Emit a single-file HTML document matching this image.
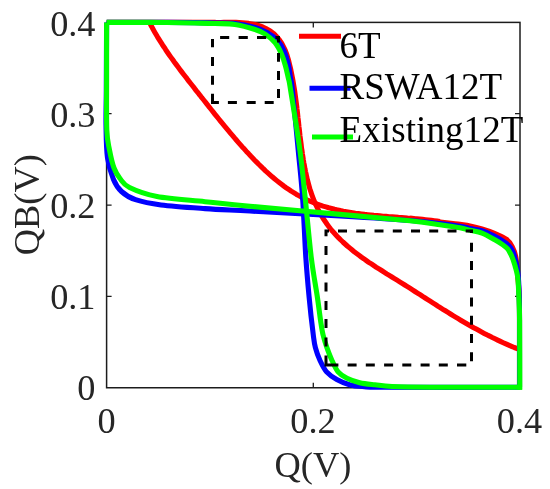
<!DOCTYPE html>
<html><head><meta charset="utf-8"><title>Butterfly curve</title>
<style>
html,body{margin:0;padding:0;background:#fff;}
svg{display:block;}
text{font-family:"Liberation Serif",serif;}
.tk{font-size:36.3px;fill:#262626;}
.lb{font-size:36.4px;fill:#262626;}
.lg{font-size:37px;fill:#000;}
.c{fill:none;stroke-width:5.1;stroke-linejoin:round;stroke-linecap:butt;}
</style></head><body>
<svg width="550" height="489" viewBox="0 0 550 489">
<rect x="0" y="0" width="550" height="489" fill="#fff"/>
<!-- axes box -->
<g stroke="#1c1c1c" stroke-width="1.5" fill="none">
<rect x="106.6" y="22.4" width="413.4" height="365.35"/>
<path stroke-width="1.3" d="M106.6 113.7h5M106.6 205.1h5M106.6 296.4h5M520 113.7h-5M520 205.1h-5M520 296.4h-5M313.3 387.75v-5M313.3 22.4v5"/>
</g>
<!-- legend lines -->
<path d="M299 36.2H341" stroke="#ff0000" stroke-width="5" fill="none"/>
<path d="M309.5 88.3H350.5" stroke="#0000ff" stroke-width="5" fill="none"/>
<path d="M312 137H353" stroke="#00ff00" stroke-width="5" fill="none"/>
<!-- curves -->
<path class="c" stroke="#ff0000" d="M148.8 21.2 L150.2 23.9 L151.6 26.6 L153.1 29.3 L154.6 31.9 L156.1 34.5 L157.6 37.1 L159.2 39.7 L160.8 42.2 L162.4 44.7 L164.1 47.2 L165.7 49.7 L167.4 52.2 L169.1 54.7 L170.8 57.1 L172.6 59.6 L174.3 62.0 L176.1 64.4 L177.9 66.8 L179.7 69.2 L181.5 71.6 L183.3 74.0 L185.1 76.3 L187.0 78.7 L188.8 81.1 L190.7 83.5 L192.5 85.8 L194.4 88.2 L196.2 90.6 L198.1 92.9 L200.0 95.3 L201.8 97.7 L203.7 100.0 L205.6 102.4 L207.5 104.8 L209.3 107.2 L211.2 109.5 L213.1 111.9 L215.0 114.3 L216.9 116.6 L218.8 119.0 L220.7 121.4 L222.6 123.7 L224.6 126.1 L226.5 128.4 L228.4 130.7 L230.4 133.1 L232.4 135.4 L234.3 137.7 L236.3 140.0 L238.3 142.3 L240.3 144.6 L242.3 146.9 L244.4 149.1 L246.4 151.4 L248.5 153.6 L250.5 155.8 L252.6 158.0 L254.7 160.2 L256.9 162.4 L259.0 164.5 L261.2 166.6 L263.3 168.7 L265.5 170.8 L267.8 172.8 L270.0 174.8 L272.2 176.8 L274.5 178.7 L276.8 180.6 L279.2 182.5 L281.5 184.3 L283.9 186.1 L286.3 187.8 L288.7 189.4 L291.2 191.1 L293.7 192.6 L296.2 194.2 L298.7 195.6 L301.3 197.0 L303.9 198.4 L306.6 199.7 L309.2 200.9 L311.9 202.0 L314.7 203.1 L317.4 204.2 L320.2 205.1 L323.0 206.1 L325.9 206.9 L328.7 207.8 L331.6 208.5 L334.5 209.3 L337.5 209.9 L340.4 210.6 L343.4 211.2 L346.4 211.7 L349.4 212.2 L352.4 212.7 L355.4 213.2 L358.5 213.6 L361.5 214.0 L364.6 214.4 L367.6 214.7 L370.7 215.0 L373.8 215.4 L376.9 215.6 L379.9 215.9 L383.0 216.2 L386.1 216.4 L389.2 216.7 L392.3 216.9 L395.3 217.1 L398.4 217.4 L401.5 217.6 L404.5 217.8 L407.5 218.1 L410.6 218.3 L413.6 218.5 L416.6 218.8 L419.6 219.1 L422.5 219.4 L425.5 219.7 L428.4 220.0 L431.3 220.3 L434.2 220.7 L437.1 221.1 L439.9 221.5 M410.0 218.0 C415.0 218.7 431.7 220.9 440.0 222.0 C448.3 223.1 455.0 223.8 460.0 224.4 C465.0 225.1 466.3 225.2 470.0 225.9 C473.7 226.7 477.9 227.7 482.0 228.9 C486.1 230.1 490.4 231.6 494.5 233.3 C498.6 235.1 503.6 237.2 506.5 239.4 C509.4 241.6 510.6 243.7 512.2 246.7 C513.8 249.7 515.0 252.4 515.9 257.5 C516.8 262.6 517.2 270.8 517.8 277.0 C518.3 283.2 518.9 287.8 519.2 295.0 C519.5 302.2 519.5 304.7 519.5 320.0 C519.5 335.3 519.5 375.8 519.5 387.0"/>
<path class="c" stroke="#ff0000" d="M106.8 22.4 L215 22.4 L215.1 22.6 L217.9 22.5 L220.8 22.5 L223.8 22.4 L226.8 22.3 L229.8 22.3 L232.9 22.3 L236.1 22.4 L239.2 22.5 L242.3 22.7 L245.5 23.0 L248.6 23.4 L251.6 23.9 L254.7 24.5 L257.6 25.3 L260.5 26.2 L263.2 27.2 L265.9 28.5 L268.5 29.9 L270.9 31.4 L273.2 33.2 L275.3 35.2 L277.3 37.3 L279.1 39.5 L280.8 41.9 L282.3 44.4 L283.7 47.1 L285.0 49.8 L286.1 52.6 L287.1 55.4 L288.0 58.4 L288.8 61.3 L289.5 64.3 L290.2 67.2 L290.9 70.2 L291.5 73.2 L292.1 76.2 L292.7 79.2 L293.2 82.1 L293.7 85.1 L294.2 88.1 L294.7 91.1 L295.1 94.1 L295.5 97.1 L295.9 100.1 L296.3 103.1 L296.7 106.1 L297.0 109.1 L297.4 112.1 L297.7 115.0 L298.0 118.0 L298.4 121.0 L298.7 124.0 L299.0 127.0 L299.4 130.0 L299.7 133.0 L300.0 136.0 L300.4 138.9 L300.8 141.9 L301.2 144.9 L301.5 147.9 L302.0 150.8 L302.4 153.8 L302.9 156.8 L303.3 159.7 L303.8 162.7 L304.4 165.6 L304.9 168.6 L305.5 171.5 L306.2 174.4 L306.8 177.4 L307.5 180.3 L308.3 183.2 L309.1 186.1 L309.9 189.0 L310.9 191.9 L311.8 194.7 L312.9 197.6 L314.0 200.4 L315.1 203.2 L316.4 206.0 L317.7 208.7 L319.1 211.4 L320.6 214.1 L322.1 216.7 L323.7 219.3 L325.4 221.8 L327.1 224.3 L328.9 226.7 L330.7 229.0 L332.6 231.3 L334.6 233.5 L336.6 235.7 L338.7 237.9 L340.8 240.0 L342.9 242.0 L345.1 244.0 L347.3 246.0 L349.6 247.9 L351.9 249.8 L354.2 251.7 L356.6 253.5 L359.0 255.3 L361.4 257.1 L363.9 258.8 L366.4 260.6 L368.8 262.3 L371.4 263.9 L373.9 265.6 L376.4 267.3 L379.0 268.9 L381.6 270.5 L384.1 272.1 L386.7 273.8 L389.3 275.4 L391.9 277.0 L394.5 278.6 L397.1 280.2 L399.7 281.8 L402.2 283.4 L404.8 285.0 L407.4 286.6 L409.9 288.2 L412.5 289.9 L415.0 291.5 L417.5 293.1 L420.1 294.7 L422.6 296.4 L425.2 298.0 L427.7 299.6 L430.2 301.2 L432.8 302.8 L435.3 304.4 L437.8 306.1 L440.3 307.7 L442.9 309.3 L445.4 310.8 L448.0 312.4 L450.5 314.0 L453.1 315.6 L455.6 317.1 L458.2 318.7 L460.7 320.2 L463.3 321.7 L465.9 323.2 L468.5 324.7 L471.1 326.2 L473.7 327.7 L476.3 329.1 L479.0 330.6 L481.6 332.0 L484.2 333.4 L486.9 334.8 L489.6 336.1 L492.3 337.5 L495.0 338.8 L497.7 340.1 L500.4 341.4 L503.2 342.7 L505.9 343.9 L508.7 345.1 L511.5 346.3 L514.3 347.5 L517.2 348.6 L520.0 349.7"/>
<path class="c" stroke="#0000ff" d="M106.6 22.3 C113.8 22.3 135.3 22.2 150.0 22.3 C164.7 22.4 184.2 22.5 195.0 22.6 C205.8 22.7 208.3 22.9 215.0 23.0 C221.7 23.1 228.3 22.8 235.0 23.5 C241.7 24.2 249.7 26.0 255.0 27.5 C260.3 29.0 263.2 30.3 267.0 32.5 C270.8 34.7 274.6 37.2 277.5 40.5 C280.4 43.8 282.7 48.0 284.5 52.0 C286.3 56.0 287.3 60.0 288.3 64.3 C289.3 68.6 289.8 73.7 290.5 78.0 C291.2 82.3 291.1 77.8 292.4 90.0 C293.7 102.2 296.6 133.0 298.3 151.0 C300.0 169.0 301.4 180.3 302.6 198.0 C303.9 215.7 304.7 240.7 305.8 257.0 C306.9 273.3 307.8 283.0 309.0 296.0 C310.2 309.0 312.2 326.4 313.3 335.0 C314.4 343.6 314.3 343.4 315.4 347.7 C316.5 351.9 318.1 356.5 320.0 360.5 C321.9 364.5 323.8 368.7 326.6 371.9 C329.4 375.1 333.0 377.4 336.8 379.5 C340.6 381.6 345.2 383.5 349.5 384.7 C353.8 385.9 356.4 386.1 362.3 386.5 C368.2 386.9 358.7 387.2 385.0 387.3 C411.3 387.4 497.5 387.3 520.0 387.3"/>
<path class="c" stroke="#0000ff" d="M106.6 22.4 C106.5 33.7 106.4 72.9 106.3 90.0 C106.2 107.1 105.8 113.7 106.0 125.0 C106.2 136.3 106.2 148.9 107.5 158.0 C108.8 167.1 111.2 173.9 113.5 179.5 C115.8 185.1 117.8 188.1 121.5 191.5 C125.2 194.9 128.9 197.4 135.5 199.7 C142.1 201.9 149.4 203.5 161.0 205.0 C172.6 206.5 190.2 207.6 205.0 208.6 C219.8 209.6 227.5 209.8 250.0 211.0 C272.5 212.2 313.3 214.4 340.0 216.0 C366.7 217.6 393.3 219.2 410.0 220.5 C426.7 221.8 431.7 222.5 440.0 223.5 C448.3 224.5 455.0 225.5 460.0 226.3 C465.0 227.1 466.3 227.7 470.0 228.4 C473.7 229.2 477.9 229.5 482.0 230.8 C486.1 232.1 490.3 234.0 494.3 236.0 C498.3 238.0 503.1 241.0 505.9 243.0 C508.6 245.0 509.5 246.1 510.8 248.0 C512.1 249.9 512.9 251.3 513.9 254.4 C514.9 257.4 516.2 262.5 516.9 266.3 C517.6 270.1 517.9 272.2 518.3 277.0 C518.7 281.8 519.0 287.8 519.2 295.0 C519.4 302.2 519.5 304.7 519.5 320.0 C519.5 335.3 519.5 375.8 519.5 387.0"/>
<path class="c" stroke="#00ff00" d="M106.6 22.4 C113.8 22.4 135.3 22.3 150.0 22.4 C164.7 22.5 184.2 22.8 195.0 23.0 C205.8 23.2 208.3 23.2 215.0 23.5 C221.7 23.8 228.3 23.5 235.0 24.5 C241.7 25.5 250.0 27.9 255.0 29.5 C260.0 31.1 261.7 31.8 265.0 34.0 C268.3 36.2 272.2 39.2 275.0 42.5 C277.8 45.8 279.8 50.1 281.5 54.0 C283.2 57.9 284.4 62.0 285.5 66.0 C286.6 70.0 287.4 74.0 288.3 78.0 C289.2 82.0 288.7 77.8 290.6 90.0 C292.6 102.2 297.6 133.0 300.0 151.0 C302.4 169.0 303.3 180.3 305.2 198.0 C307.1 215.7 309.2 240.7 311.2 257.0 C313.2 273.3 315.6 285.5 317.2 296.0 C318.8 306.5 319.5 313.5 320.5 320.0 C321.5 326.5 322.0 330.4 323.1 335.0 C324.2 339.6 325.4 343.4 326.9 347.7 C328.4 351.9 330.1 356.5 332.0 360.5 C333.9 364.5 335.6 368.9 338.1 371.9 C340.6 374.9 343.4 376.5 347.0 378.3 C350.6 380.1 355.1 381.6 359.7 382.7 C364.3 383.8 369.5 384.2 374.9 384.8 C380.3 385.4 382.8 386.1 392.0 386.5 C401.2 386.9 408.3 387.1 430.0 387.2 C451.7 387.3 506.7 387.3 522.0 387.3"/>
<path class="c" stroke="#00ff00" d="M106.6 22.4 C106.6 32.0 106.6 62.1 106.6 80.0 C106.6 97.9 106.3 118.3 106.8 130.0 C107.3 141.7 108.3 143.7 109.5 150.0 C110.7 156.3 112.2 163.2 114.0 168.0 C115.8 172.8 117.4 175.2 120.0 178.5 C122.6 181.8 123.3 184.5 129.5 187.5 C135.7 190.5 144.4 194.1 157.0 196.5 C169.6 198.9 189.5 200.1 205.0 201.7 C220.5 203.3 227.5 204.2 250.0 206.3 C272.5 208.4 313.3 212.0 340.0 214.4 C366.7 216.8 393.3 219.1 410.0 220.8 C426.7 222.5 431.7 223.5 440.0 224.7 C448.3 225.9 455.0 226.9 460.0 227.8 C465.0 228.7 466.3 229.4 470.0 230.3 C473.7 231.2 477.9 231.6 482.0 233.2 C486.1 234.8 491.4 237.9 494.8 239.8 C498.2 241.7 500.2 243.0 502.3 244.5 C504.4 246.0 506.0 247.0 507.4 248.6 C508.8 250.2 509.8 252.4 510.8 254.3 C511.8 256.2 512.5 258.0 513.2 260.0 C513.9 262.0 514.5 263.7 515.2 266.5 C516.0 269.3 517.1 272.2 517.7 277.0 C518.3 281.8 518.5 287.8 518.8 295.0 C519.1 302.2 519.4 304.2 519.6 320.0 C519.8 335.8 519.7 378.2 519.8 389.8"/>
<!-- dashed boxes -->
<g stroke="#000" stroke-width="3" fill="none" stroke-linecap="butt">
<path d="M220.1 37.5H229.2M238.6 37.5H247.8M257.0 37.5H266.2M275.4 37.5H280.0M212.5 39.0V47.2M212.5 57.0V66.0M212.5 75.8V84.8M212.5 93.8V103.5M211.0 102.5H218.9M227.9 102.5H236.9M246.7 102.5H255.7M264.7 102.5H273.7M278.5 36.0V42.6M278.5 52.9V61.7M278.5 70.9V79.9M278.5 88.9V97.9M324.5 230.9H329.0M338.0 230.9H347.0M356.2 230.9H365.2M374.5 230.9H383.5M392.8 230.9H401.8M411.0 230.9H420.0M429.2 230.9H438.2M447.5 230.9H456.5M465.7 230.9H473.0M326.0 229.4V236.3M326.0 246.1V255.1M326.0 264.4V273.4M326.0 282.6V291.6M326.0 300.9V309.9M326.0 319.1V328.1M326.0 337.4V346.4M326.0 355.6V366.5M324.5 365.0H338.4M347.6 365.0H356.6M365.8 365.0H374.8M384.1 365.0H393.1M402.3 365.0H411.3M420.6 365.0H429.6M438.8 365.0H447.8M457.0 365.0H466.3M471.5 229.4V233.0M471.5 242.8V251.8M471.5 261.1V270.1M471.5 279.3V288.3M471.5 297.6V306.6M471.5 315.8V324.8M471.5 334.1V343.1M471.5 352.3V361.3"/>
</g>
<!-- tick labels -->
<g class="tk" text-anchor="end">
<text x="95.5" y="35.6">0.4</text>
<text x="95.5" y="127">0.3</text>
<text x="95.5" y="217.6">0.2</text>
<text x="95.5" y="309">0.1</text>
<text x="95.5" y="400">0</text>
</g>
<g class="tk" text-anchor="middle">
<text x="106.5" y="433">0</text>
<text x="313" y="433">0.2</text>
<text x="519.5" y="433">0.4</text>
</g>
<text class="lb" text-anchor="middle" x="313" y="477.4">Q(V)</text>
<text class="lb" text-anchor="middle" transform="translate(38.8 204.7) rotate(-90)">QB(V)</text>
<g class="lg">
<text x="339.6" y="57.5">6T</text>
<text x="339.6" y="99.3">RSWA12T</text>
<text x="339.6" y="141.8" letter-spacing="0.08">Existing12T</text>
</g>
</svg>
</body></html>
